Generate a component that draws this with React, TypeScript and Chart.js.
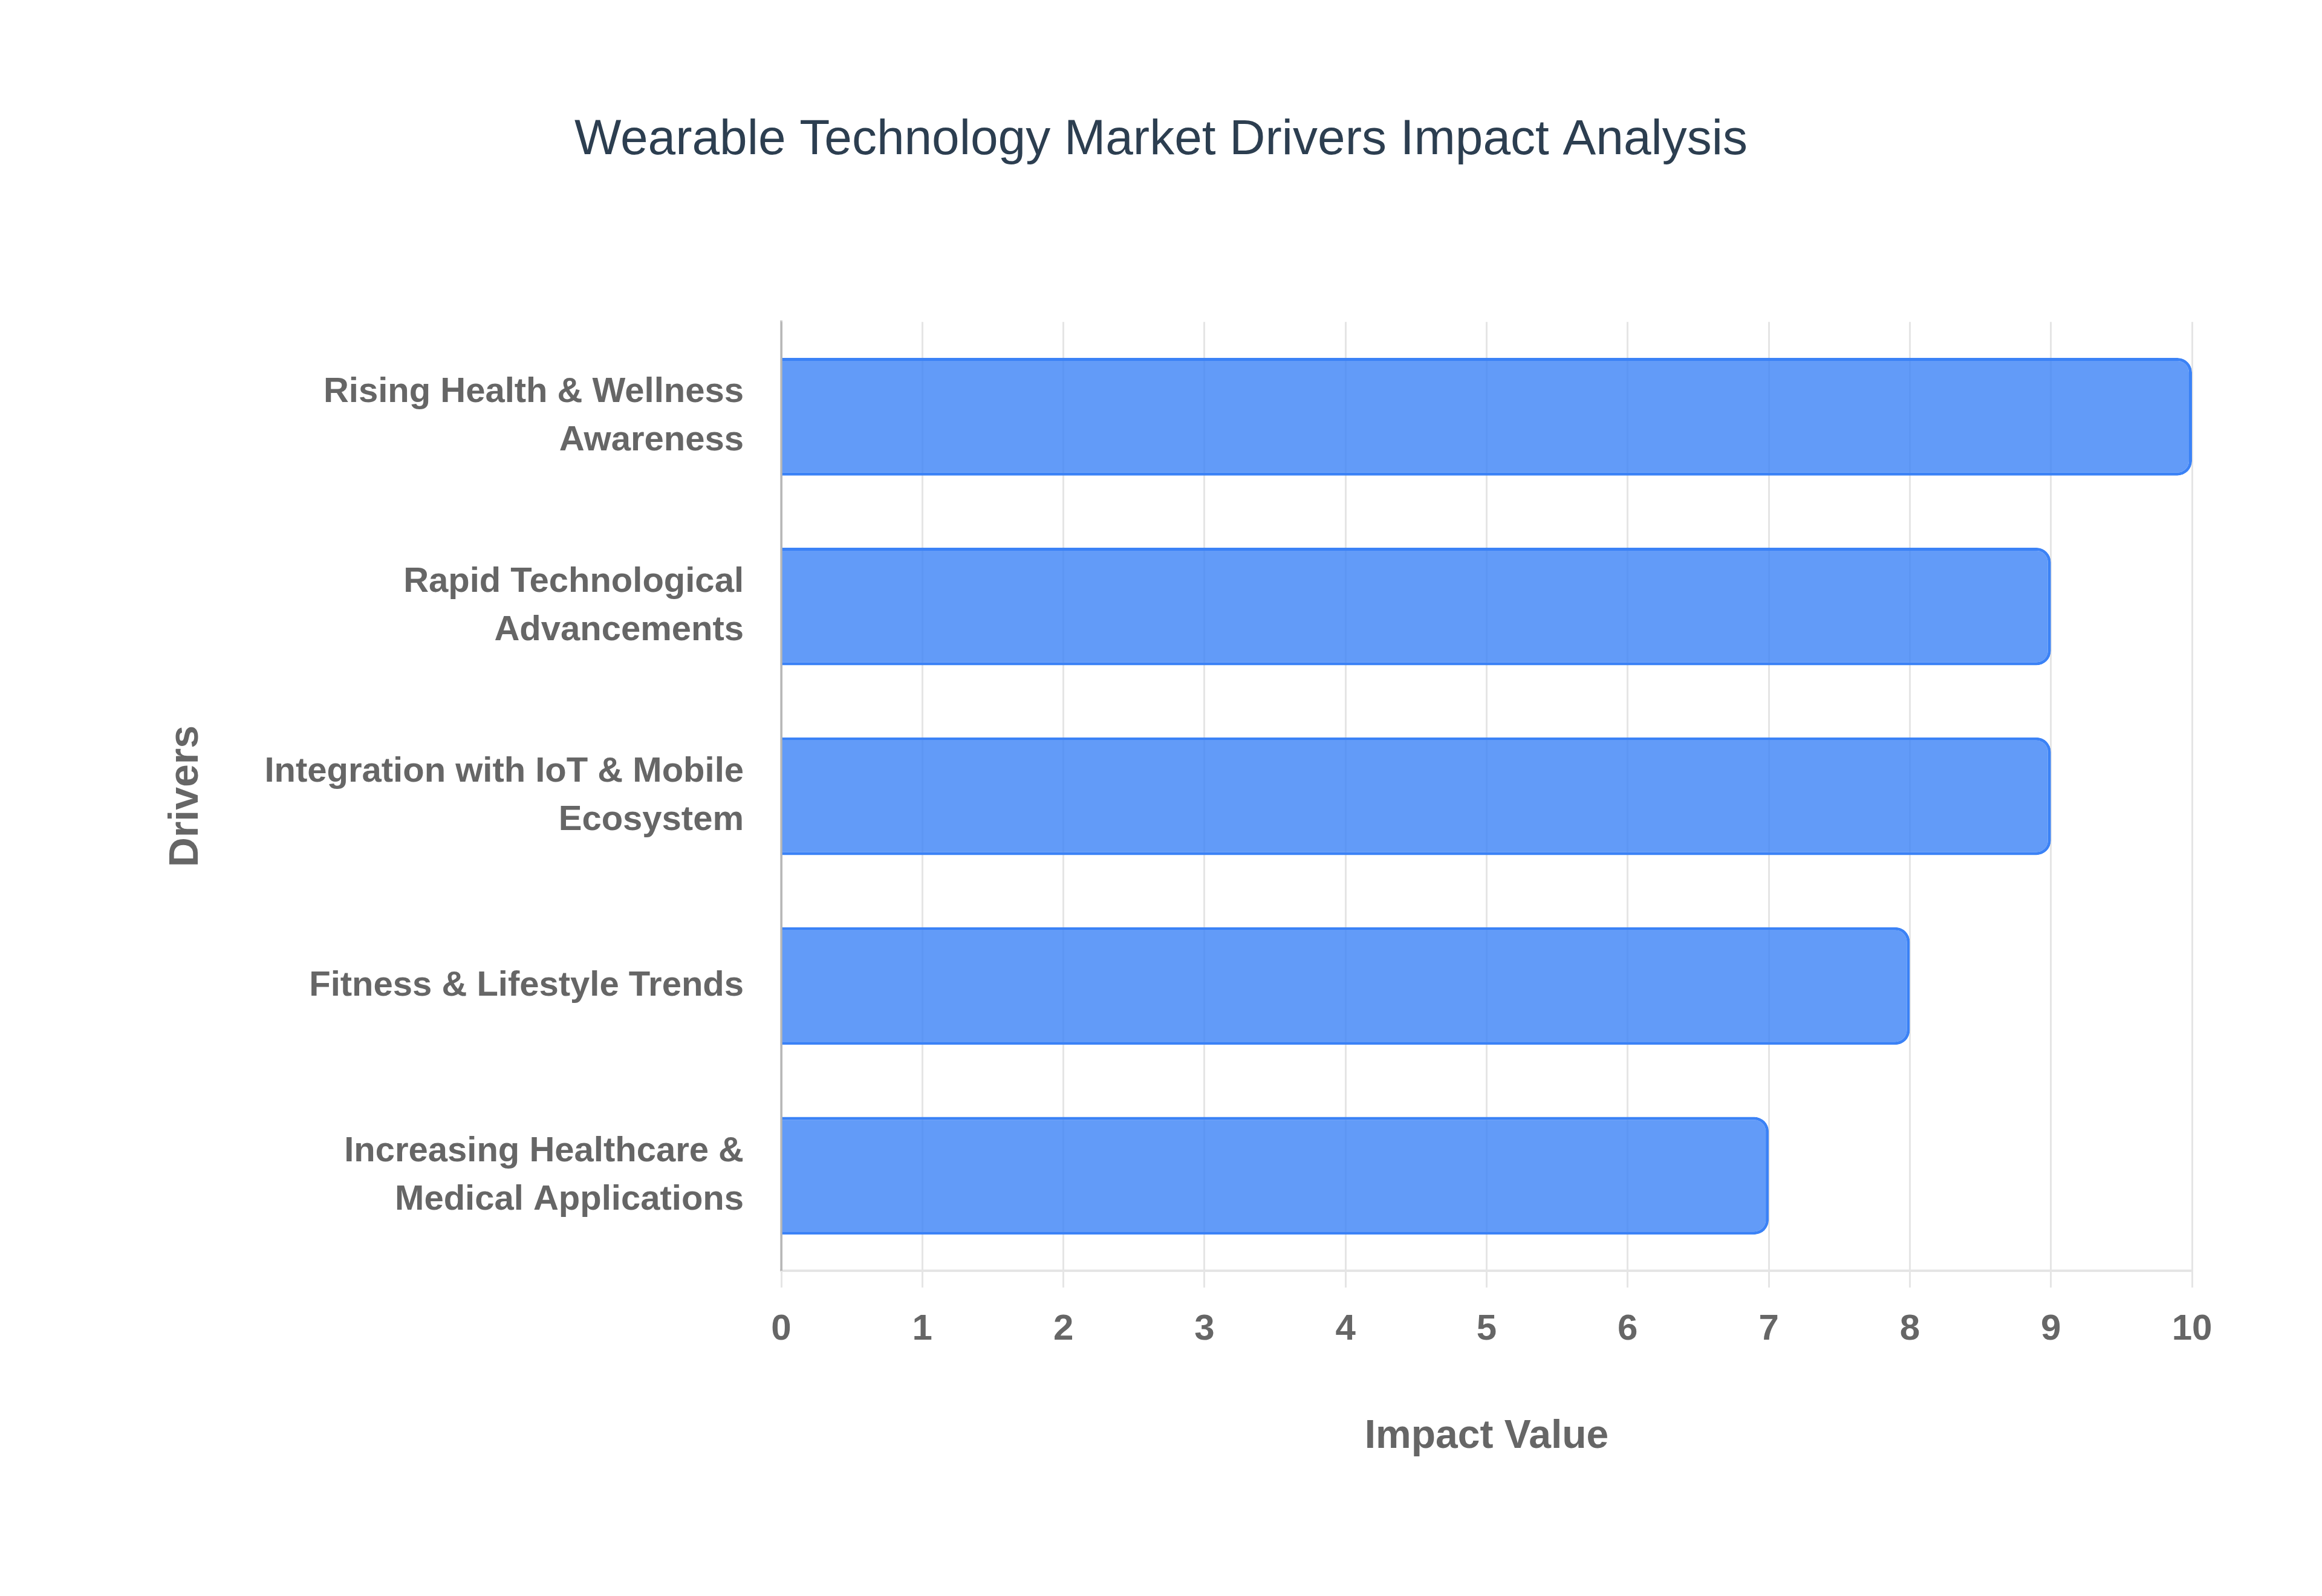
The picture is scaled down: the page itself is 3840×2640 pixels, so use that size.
import React, { useEffect, useRef } from 'react';
import { Chart, registerables } from 'chart.js';

Chart.register(...registerables);

const drivers: (string | string[])[] = [
  ['Rising Health & Wellness', 'Awareness'],
  ['Rapid Technological', 'Advancements'],
  ['Integration with IoT & Mobile', 'Ecosystem'],
  'Fitness & Lifestyle Trends',
  ['Increasing Healthcare &', 'Medical Applications'],
];
const impactValues = [10, 9, 9, 8, 7];

const FONT = "'Liberation Sans', Arial, Helvetica, sans-serif";

export default function App() {
  const chartRef = useRef<HTMLCanvasElement>(null);
  const chartInstance = useRef<Chart | null>(null);

  useEffect(() => {
    if (!chartRef.current) return;
    if (chartInstance.current) chartInstance.current.destroy();
    const ctx = chartRef.current.getContext('2d');
    if (!ctx) return;

    chartInstance.current = new Chart(ctx, {
      type: 'bar',
      data: {
        labels: drivers,
        datasets: [
          {
            label: 'Impact Value',
            data: impactValues,
            backgroundColor: 'rgba(59, 130, 246, 0.8)',
            borderColor: 'rgb(59, 130, 246)',
            borderWidth: 5,
            borderRadius: 24,
            barPercentage: 0.62,
            categoryPercentage: 1,
          },
        ],
      },
      options: {
        indexAxis: 'y',
        animation: false,
        responsive: true,
        maintainAspectRatio: false,
        devicePixelRatio: 1,
        layout: {
          padding: { top: 0, bottom: 196, left: 207, right: 207 },
        },
        plugins: {
          legend: { display: false },
          tooltip: { enabled: false },
          title: {
            display: true,
            text: 'Wearable Technology Market Drivers Impact Analysis',
            color: '#2c3e50',
            font: { family: FONT, size: 82, weight: 'normal' },
            padding: { top: 175, bottom: 251 },
          },
        },
        scales: {
          x: {
            min: 0,
            max: 10,
            ticks: {
              stepSize: 1,
              color: '#666',
              padding: 34,
              font: { family: FONT, size: 60, weight: 'bold' },
            },
            grid: {
              color: 'rgba(0, 0, 0, 0.1)',
              lineWidth: 3,
              tickLength: 28,
            },
            border: { color: 'rgba(0, 0, 0, 0.1)', width: 4 },
            title: {
              display: true,
              text: 'Impact Value',
              color: '#666',
              font: { family: FONT, size: 66, weight: 'bold' },
              padding: { top: 67, bottom: 20 },
            },
          },
          y: {
            grid: { display: false, drawTicks: false },
            border: { color: 'rgba(0, 0, 0, 0.2)', width: 4 },
            ticks: {
              color: '#666',
              padding: 62,
              font: { family: FONT, size: 58, weight: 'bold', lineHeight: 1.38 },
            },
            title: {
              display: true,
              text: 'Drivers',
              color: '#666',
              font: { family: FONT, size: 68, weight: 'bold' },
              padding: { top: 52, bottom: 20 },
            },
            afterFit: (scale) => {
              scale.width = 1077;
            },
          },
        },
      },
    });

    return () => {
      if (chartInstance.current) {
        chartInstance.current.destroy();
        chartInstance.current = null;
      }
    };
  }, []);

  return (
    <div style={{ position: 'relative', width: '3824px', height: '2624px', background: '#fff' }}>
      <canvas ref={chartRef} />
    </div>
  );
}
